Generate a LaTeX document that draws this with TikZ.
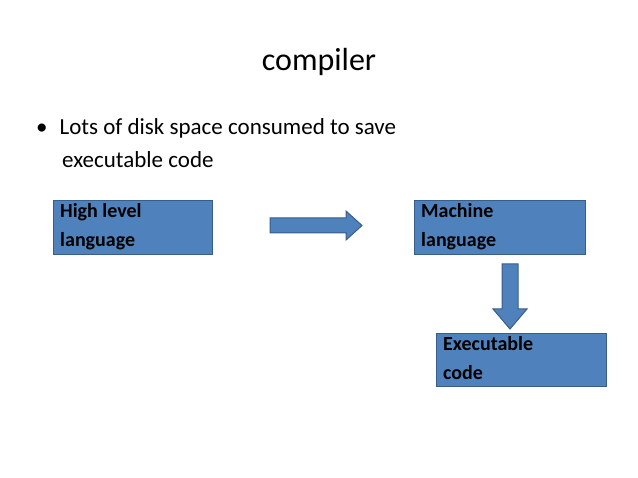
\documentclass[tikz,border=0pt]{standalone}
\usepackage{fontspec}
\setmainfont{Carlito}
\usetikzlibrary{shapes.arrows}
\definecolor{bfill}{HTML}{4F81BD}
\definecolor{bdraw}{HTML}{385D8A}
\begin{document}
\begin{tikzpicture}[x=1pt,y=-1pt,
  box/.style={fill=bfill,draw=bdraw,line width=1pt},
  btext/.style={anchor=north west,align=left,font=\fontsize{20}{29}\selectfont\bfseries,inner sep=0pt},
  barrow/.style={fill=bfill,draw=bdraw,line width=1pt}]
\useasboundingbox (0,0) rectangle (638,478);
\node (title) at (319,62) {\fontsize{32}{38}\selectfont compiler};
\node[anchor=north west,align=left,inner sep=0pt,font=\fontsize{23}{33}\selectfont] (bul) at (36,118)
  {\textbullet\hspace{12pt}Lots of disk space consumed to save\\\hspace{26pt}executable code};
\draw[box] (53,201) rectangle (212,255);
\node[btext] (hl) at (60,203) {High level\\language};
\draw[box] (414,201) rectangle (585,255);
\node[btext] (ml) at (421,203) {Machine\\language};
\draw[box] (436,334) rectangle (606,387);
\node[btext] (ec) at (443,336) {Executable\\code};
\draw[barrow] (270,218) -- (346,218) -- (346,211) -- (362,225.5) -- (346,240) -- (346,233) -- (270,233) -- cycle;
\draw[barrow] (502,264) -- (518,264) -- (518,309) -- (527,309) -- (510,329) -- (493,309) -- (502,309) -- cycle;
\end{tikzpicture}
\end{document}
